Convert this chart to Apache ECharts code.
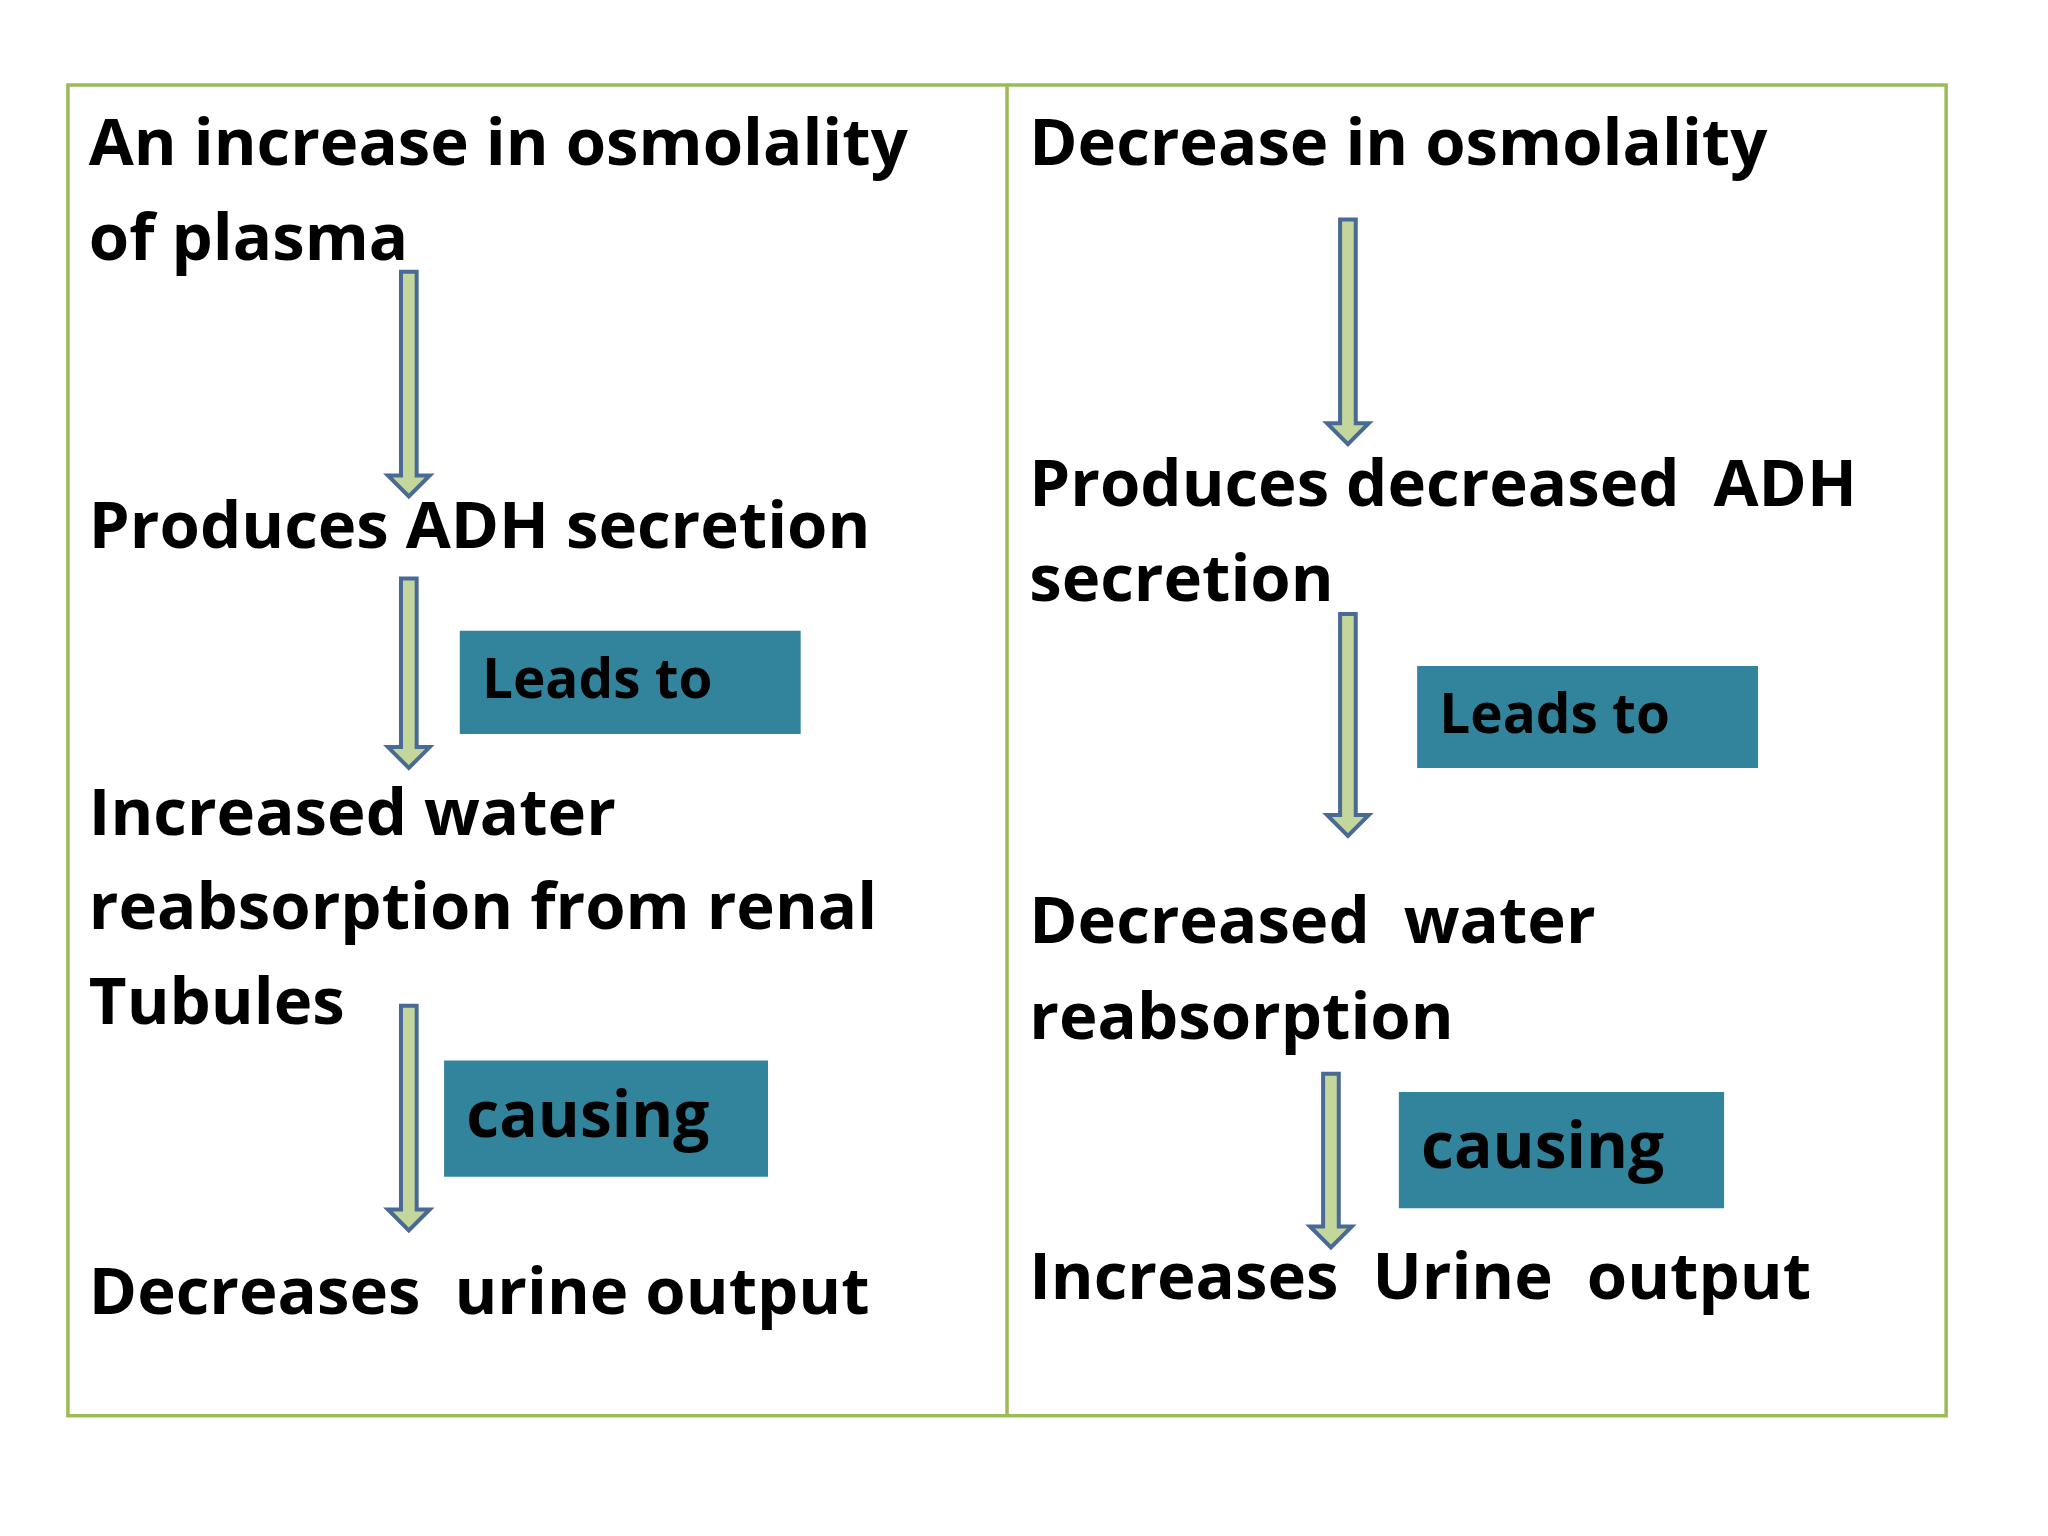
<!DOCTYPE html>
<html><head><meta charset="utf-8">
<script src="https://cdn.jsdelivr.net/npm/echarts@6/dist/echarts.min.js"></script>
<style>html,body{margin:0;background:#fff}#c{width:2048px;height:1536px}</style>
</head><body><div id="c"></div>
<script>
var s = 2048 / 1568;
// text lines: [text, x, y]
var leftLines = [
  ['An increase in osmolality', 68, 112], ['of plasma', 68, 185],
  ['Produces ADH secretion', 68, 405],
  ['Increased water', 68, 625], ['reabsorption from renal', 68, 697], ['Tubules', 68, 770],
  ['Decreases  urine output', 68, 992]
];
var rightLines = [
  ['Decrease in osmolality', 788, 112],
  ['Produces decreased  ADH', 788, 373], ['secretion', 788, 446],
  ['Decreased  water', 788, 708], ['reabsorption', 788, 781],
  ['Increases  Urine  output', 788, 980]
];
// arrows: [x, yTop, yBottom]
var arrows = [[313, 208, 380], [313, 443, 588], [313, 770, 942],
              [1032, 168, 340], [1032, 470, 640], [1019, 822, 955]];
// tag boxes: [text, x0, y0, x1, y1, fontSize]
var tags = [['Leads to', 352, 483, 613, 562, 42], ['causing', 340, 812, 588, 901, 49],
            ['Leads to', 1085, 510, 1346, 588, 42], ['causing', 1071, 836, 1320, 925, 49]];

var g = [];
g.push({type: 'rect', shape: {x: 52*s, y: 65*s, width: 1438*s, height: 1019*s},
  style: {fill: 'none', stroke: '#9bbb59', lineWidth: 3.5}});
g.push({type: 'line', shape: {x1: 771*s, y1: 65*s, x2: 771*s, y2: 1084*s},
  style: {stroke: '#9bbb59', lineWidth: 3.5}});
leftLines.concat(rightLines).forEach(function (l) {
  g.push({type: 'text', x: l[1]*s, y: l[2]*s, z: 5, style: {text: l[0], fill: '#000',
    font: 'bold ' + (50*s) + 'px "Open Sans"', verticalAlign: 'middle'}});
});
arrows.forEach(function (a) {
  var x = a[0]*s, t = a[1]*s, b = a[2]*s, hw = 6*s, hh = 16*s, he = 16*s;
  g.push({type: 'polygon', z: 10, shape: {points: [
    [x-hw, t], [x+hw, t], [x+hw, b-hh], [x+he, b-hh], [x, b], [x-he, b-hh], [x-hw, b-hh]]},
    style: {fill: '#c3d69b', stroke: '#4a6a96', lineWidth: 4}});
});
tags.forEach(function (t) {
  g.push({type: 'rect', shape: {x: t[1]*s, y: t[2]*s, width: (t[3]-t[1])*s, height: (t[4]-t[2])*s},
    style: {fill: '#31849b'}});
  g.push({type: 'text', x: (t[1]+17)*s, y: (t[2]+t[4])/2*s, z: 5, style: {text: t[0], fill: '#000',
    font: 'bold ' + (t[5]*s) + 'px "Open Sans"', verticalAlign: 'middle'}});
});
var chart = echarts.init(document.getElementById('c'));
chart.setOption({graphic: {elements: g}});
</script></body></html>
